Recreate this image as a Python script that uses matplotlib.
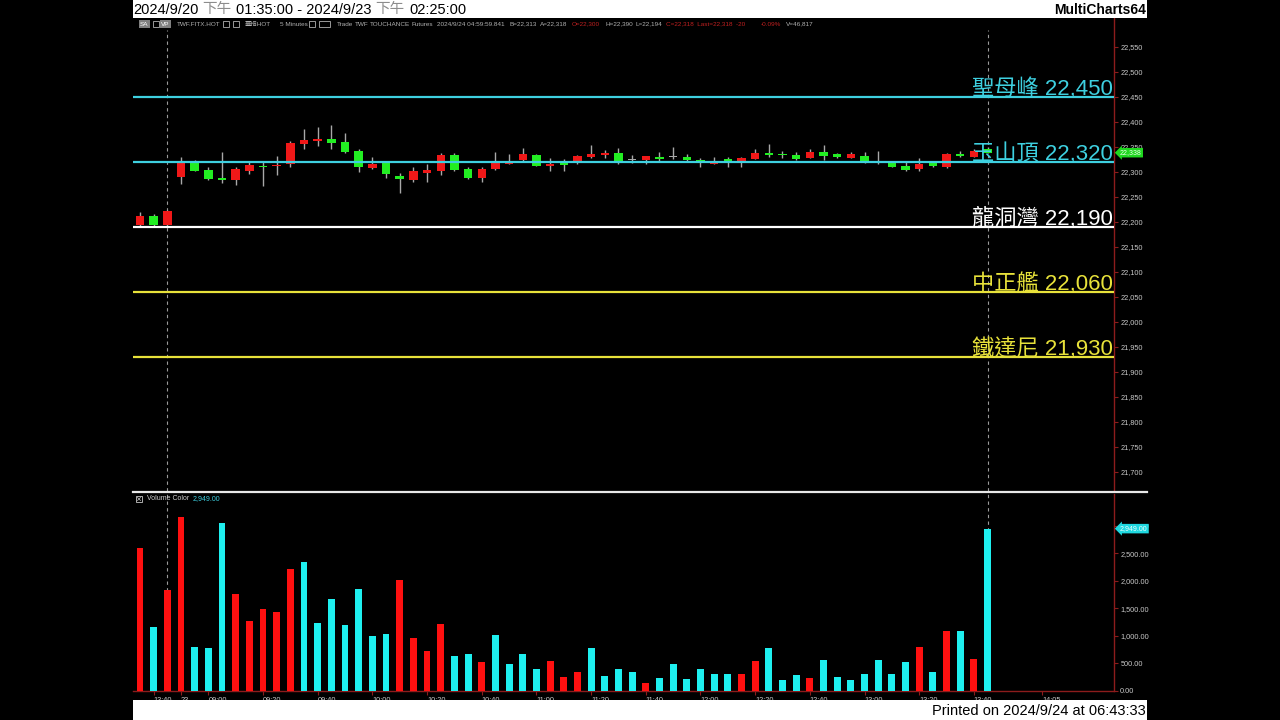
import matplotlib
matplotlib.use("Agg")
import matplotlib.pyplot as plt
import matplotlib.patches as mpatches
import matplotlib.transforms as mtransforms
from matplotlib.lines import Line2D
import numpy as np

plt.rcParams['font.family'] = ['Liberation Sans', 'Noto Sans CJK TC', 'DejaVu Sans']

# ---------------- data ----------------
opens = [22193, 22211, 22193, 22290, 22321, 22303, 22287, 22283, 22302, 22311,
         22311, 22315, 22355, 22362, 22365, 22359, 22341, 22308, 22317, 22291,
         22283, 22298, 22302, 22334, 22305, 22287, 22305, 22316, 22323, 22333,
         22312, 22317, 22317, 22329, 22333, 22337, 22323, 22323, 22330, 22329,
         22329, 22323, 22316, 22325, 22317, 22326, 22337, 22336, 22334, 22328,
         22339, 22335, 22328, 22332, 22321, 22317, 22311, 22305, 22318, 22310,
         22335, 22330, 22345]
highs = [22220, 22215, 22223, 22329, 22323, 22310, 22339, 22310, 22319, 22321,
         22331, 22361, 22385, 22389, 22393, 22377, 22345, 22330, 22320, 22298,
         22310, 22315, 22337, 22338, 22310, 22310, 22339, 22335, 22347, 22335,
         22327, 22325, 22333, 22353, 22343, 22347, 22333, 22331, 22339, 22349,
         22335, 22327, 22329, 22329, 22330, 22345, 22355, 22342, 22339, 22345,
         22353, 22338, 22339, 22339, 22341, 22318, 22320, 22327, 22320, 22338,
         22342, 22345, 22349]
lows = [22191, 22189, 22192, 22275, 22301, 22283, 22278, 22273, 22295, 22271,
        22293, 22310, 22345, 22351, 22345, 22337, 22299, 22305, 22287, 22258,
        22279, 22280, 22293, 22302, 22285, 22280, 22304, 22315, 22322, 22311,
        22302, 22302, 22315, 22328, 22327, 22315, 22318, 22315, 22322, 22325,
        22322, 22310, 22315, 22310, 22310, 22325, 22330, 22328, 22324, 22327,
        22323, 22328, 22327, 22318, 22316, 22309, 22302, 22302, 22310, 22307,
        22330, 22329, 22337]
closes = [22211, 22193, 22222, 22318, 22302, 22285, 22284, 22305, 22313, 22309,
          22313, 22357, 22363, 22365, 22358, 22340, 22309, 22315, 22295, 22285,
          22301, 22303, 22334, 22303, 22287, 22305, 22317, 22320, 22335, 22312,
          22316, 22314, 22331, 22335, 22337, 22322, 22323, 22331, 22326, 22329,
          22323, 22319, 22319, 22317, 22327, 22337, 22333, 22333, 22325, 22340,
          22332, 22330, 22335, 22321, 22317, 22310, 22303, 22316, 22311, 22335,
          22331, 22342, 22338]
volumes = [2591, 1165, 1832, 3155, 790, 777, 3046, 1760, 1274, 1492,
           1426, 2214, 2348, 1227, 1674, 1190, 1856, 1001, 1032, 2014,
           953, 722, 1219, 637, 668, 517, 1008, 481, 668, 395,
           540, 255, 346, 772, 267, 395, 335, 135, 225, 481,
           213, 389, 304, 298, 304, 540, 772, 195, 280, 225,
           559, 244, 195, 298, 553, 298, 528, 800, 346, 1092,
           1092, 571, 2949]
vol_dir = list("RCRRCCCRRR" "RRCCCCCCCR" "RRRCCRCCCC" "RRRCCCCRCC"
               "CCCCRRCCCR" "CCCCCCCRCR" "CRC")

tick_idx = [1, 3, 5, 9, 13, 17, 21, 25, 29, 33, 37, 41, 45, 49, 53, 57, 61, 66]
tick_labels = ['13:40', '23', '09:00', '09:20', '09:40', '10:00', '10:20', '10:40',
               '11:00', '11:20', '11:40', '12:00', '12:20', '12:40', '13:00',
               '13:20', '13:40', '14:05']
session_end_idx = [2, 62]

level_names = ['聖母峰', '玉山頂', '龍洞灣', '中正艦', '鐵達尼']
level_values = [22450, 22320, 22190, 22060, 21930]
level_colors = ['#3ed0e0', '#3ed0e0', '#ffffff', '#e8e23a', '#e8e23a']

price_ticks = list(range(21700, 22551, 50))
vol_ticks = [0, 500, 1000, 1500, 2000, 2500, 3000]
last_price = 22338
last_volume = 2949

# ---------------- figure ----------------
W, H = 1280, 720
fig = plt.figure(figsize=(12.8, 7.2), dpi=100, facecolor='black')

def fx(px):
    return px / W

def fy(py):
    return 1 - py / H

AXRED = '#8c1c1c'
LBL = '#c8c8c8'

# header / footer white strips
fig.patches.append(mpatches.Rectangle((fx(133), fy(18)), fx(1147) - fx(133), 18 / H,
                                      transform=fig.transFigure, fc='white', ec='none'))
fig.patches.append(mpatches.Rectangle((fx(133), 0), fx(1147) - fx(133), 20 / H,
                                      transform=fig.transFigure, fc='white', ec='none'))

x_left, x_right = -0.512, 71.25

# price axes
ax = fig.add_axes([fx(133), fy(491), (1114 - 133) / W, (491 - 18) / H])
ax.set_facecolor('black')
ax.set_xlim(x_left, x_right)
ax.set_ylim(21661.4, 22607.4)
for s in ['left', 'top', 'bottom']:
    ax.spines[s].set_visible(False)
ax.spines['right'].set_color(AXRED)
ax.spines['right'].set_linewidth(1.0)
ax.yaxis.tick_right()
ax.set_yticks(price_ticks)
ax.set_yticklabels([f'{v:,}' for v in price_ticks])
ax.tick_params(axis='y', colors=AXRED, labelcolor=LBL, labelsize=5.3, length=3, width=0.8, pad=1.5)
ax.set_xticks([])

idx = np.arange(len(opens))
o = np.array(opens); c = np.array(closes); h = np.array(highs); l = np.array(lows)

for xi in session_end_idx:
    ax.axvline(xi, ymax=0.975, color='#9a9a9a', lw=0.8, ls=(0, (3, 3)), zorder=1)

ax.vlines(idx, l, h, color='#a8a8a8', lw=1.0, zorder=2)
body_col = ['#f01818' if cc > oo else ('#22ee22' if cc < oo else '#a8a8a8') for oo, cc in zip(o, c)]
body_h = np.maximum(np.abs(c - o), 2.0)
body_b = np.minimum(o, c)
ax.bar(idx, body_h, bottom=body_b, width=0.62, color=body_col, zorder=3, linewidth=0)

blend = mtransforms.blended_transform_factory(ax.transAxes, ax.transData)
for name, val, col in zip(level_names, level_values, level_colors):
    ax.axhline(val, color=col, lw=1.6, zorder=4)
    ax.text(0.999, val + 4, f'{name} {val:,}', transform=blend, ha='right', va='baseline',
            color=col, fontsize=16, zorder=5)

ax.text(1.006, last_price, f'{last_price:,}', transform=blend, ha='left', va='center',
        fontsize=5.0, color='#e8ffe8', zorder=6, clip_on=False,
        bbox=dict(boxstyle='larrow,pad=0.18', fc='#1fd81f', ec='none'))

# volume axes
av = fig.add_axes([fx(133), fy(691), (1114 - 133) / W, (691 - 494) / H])
av.set_facecolor('black')
av.set_xlim(x_left, x_right)
av.set_ylim(-5, 3579)
for s in ['left', 'top']:
    av.spines[s].set_visible(False)
for s in ['right', 'bottom']:
    av.spines[s].set_color(AXRED)
    av.spines[s].set_linewidth(1.0)
av.yaxis.tick_right()
av.set_yticks(vol_ticks)
av.set_yticklabels([f'{v:,.2f}' for v in vol_ticks])
av.tick_params(axis='y', colors=AXRED, labelcolor=LBL, labelsize=5.3, length=3, width=0.8, pad=1.5)
av.set_xticks(tick_idx)
av.set_xticklabels(tick_labels)
av.tick_params(axis='x', colors=AXRED, labelcolor=LBL, labelsize=5.3, length=3, width=0.8, pad=1.0)
for lbl in av.get_xticklabels():
    lbl.set_horizontalalignment('left')

for xi in session_end_idx:
    av.axvline(xi, color='#9a9a9a', lw=0.8, ls=(0, (3, 3)), zorder=1)
vcol = ['#ff1010' if d == 'R' else '#1ef0f0' for d in vol_dir]
av.bar(idx, volumes, width=0.5, color=vcol, zorder=3, linewidth=0)

vblend = mtransforms.blended_transform_factory(av.transAxes, av.transData)
av.text(1.006, last_volume, f'{last_volume:,.2f}', transform=vblend, ha='left', va='center',
        fontsize=5.0, color='#f0ffff', zorder=6, clip_on=False,
        bbox=dict(boxstyle='larrow,pad=0.18', fc='#1ed8e0', ec='none'))

# separator line between panels
fig.lines.append(Line2D([fx(133), fx(1147)], [fy(492), fy(492)], transform=fig.transFigure,
                        color='#e8e8e8', lw=1.6))

# volume legend
fig.patches.append(mpatches.Rectangle((fx(136), fy(502)), 6 / W, 6 / H, transform=fig.transFigure,
                                      fc='none', ec='#c8c8c8', lw=0.6))
fig.lines.append(Line2D([fx(137.5), fx(140.5)], [fy(500.5), fy(497.5)], transform=fig.transFigure,
                        color='#c8c8c8', lw=0.5))
fig.lines.append(Line2D([fx(137.5), fx(140.5)], [fy(497.5), fy(500.5)], transform=fig.transFigure,
                        color='#c8c8c8', lw=0.5))
fig.text(fx(147), fy(499), 'Volume Color', fontsize=5.0, color='#d0d0d0', va='center', ha='left')
fig.text(fx(193), fy(499), f'{last_volume:,.2f}', fontsize=5.0, color='#3ed0e0', va='center', ha='left')

# header text with gray 下午
renderer = fig.canvas.get_renderer()
def seq_text(x_px, y_px, pieces, **kw):
    t1 = fig.text(0, 0, '00', **kw); w1 = t1.get_window_extent(renderer).width; t1.remove()
    t2 = fig.text(0, 0, '0 0', **kw); w2 = t2.get_window_extent(renderer).width; t2.remove()
    gap = w2 - w1
    x = x_px
    for s, col in pieces:
        t = fig.text(fx(x), fy(y_px), s, color=col, ha='left', va='center', **kw)
        x = t.get_window_extent(renderer).x1 + gap

seq_text(133, 9.5, [('2024/9/20', 'black'), ('下午', '#8c8c8c'), ('01:35:00 - 2024/9/23', 'black'),
                    ('下午', '#8c8c8c'), ('02:25:00', 'black')], fontsize=10.5)
fig.text(fx(1146), fy(9.5), 'MultiCharts64', fontsize=10, fontweight='bold', color='black',
         ha='right', va='center')

# status line
st = '#b0b0b0'
fig.text(fx(140), fy(24), 'SA', fontsize=4.6, color='white', va='center', ha='left',
         bbox=dict(boxstyle='square,pad=0.2', fc='#808080', ec='none'))
fig.text(fx(161), fy(24), 'VP', fontsize=4.6, color='white', va='center', ha='left',
         bbox=dict(boxstyle='square,pad=0.2', fc='#808080', ec='none'))
status = [(177, 'TWF.FITX.HOT', st), (245, '臺指HOT', st), (280, '5 Minutes', st),
          (337, 'Trade', st), (355, 'TWF', st), (370, 'TOUCHANCE', st), (412, 'Futures', st),
          (437, '2024/9/24 04:59:59.841', st), (509, 'B=22,313', st), (540, 'A=22,318', st),
          (572, 'O=22,300', '#c02020'), (605, 'H=22,390', st), (636, 'L=22,194', st),
          (666, 'C=22,318  Last=22,318  -20', '#c02020'), (761, '-0.09%', '#c02020'),
          (786, 'V=46,817', st)]
for xp, s, col in status:
    fig.text(fx(xp), fy(24), s, fontsize=4.6, color=col, va='center', ha='left')
for xp, wd in [(153, 6), (223, 6), (233, 6), (309, 6), (319, 11)]:
    fig.patches.append(mpatches.Rectangle((fx(xp), fy(27)), wd / W, 6 / H, transform=fig.transFigure,
                                          fc='none', ec=st, lw=0.6))

# footer
fig.text(fx(1146), fy(711), 'Printed on 2024/9/24 at 06:43:33', fontsize=10.5, color='black',
         ha='right', va='center')

fig.savefig('out.png', dpi=100, facecolor='black')
